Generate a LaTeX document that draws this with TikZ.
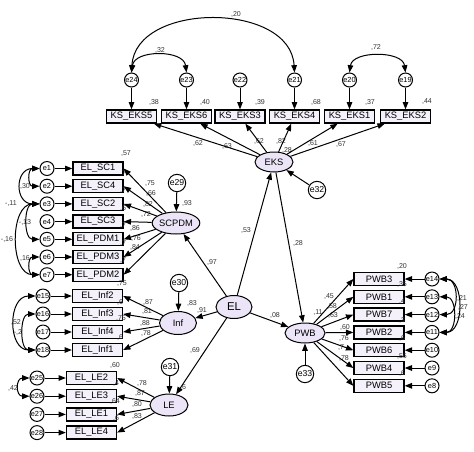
\documentclass[tikz,border=0pt]{standalone}
\usepackage{fontspec}
\setmainfont{Liberation Sans}
\usetikzlibrary{arrows.meta,shapes.geometric}
\definecolor{lav}{RGB}{236,229,247}
\tikzset{every picture/.style={line width=0.75pt}}
\tikzset{
  obsbox/.style={draw, fill=lav!55, line width=1pt, minimum width=37.5pt, minimum height=9.75pt, inner sep=0pt, font=\fontsize{7}{8}\selectfont},
  errc/.style={circle, draw, fill=white, minimum size=10.5pt, inner sep=0pt, font=\fontsize{5.5}{6}\selectfont},
  errbig/.style={circle, draw, fill=white, minimum size=13pt, inner sep=0pt, font=\fontsize{6.5}{7}\selectfont},
  latent/.style={ellipse, draw, fill=lav, minimum width=28.5pt, minimum height=16.5pt, inner sep=0pt, font=\fontsize{7}{8}\selectfont},
  coef/.style={inner sep=0pt, font=\fontsize{5.3}{6}\selectfont, text=black!80},
  regarrow/.style={-{Triangle[length=5.5pt,width=4.2pt]}},
  covarrow/.style={{Triangle[length=5.5pt,width=4.2pt]}-{Triangle[length=5.5pt,width=4.2pt]}},
}

\begin{document}
\begin{tikzpicture}[x=0.75pt,y=0.75pt,yscale=-1,xscale=1]
\useasboundingbox (0,0) rectangle (474,451); %set diagram to 474 x 451

%Shape: Latent variables
\node (el) at (234,307) [latent, minimum width=27pt, minimum height=17.25pt, font=\fontsize{8.5}{9}\selectfont] {EL};
\node (eks) at (274,162) [latent, minimum height=15pt] {EKS};
\node (scpdm) at (176,223) [latent, minimum width=30.75pt] {SCPDM};
\node (inf) at (178,323) [latent, minimum width=27.75pt, minimum height=17.25pt] {Inf};
\node (le) at (169,405) [latent] {LE};
\node (pwb) at (305,333) [latent, minimum width=30pt, minimum height=15pt] {PWB};

%Shape: Structural errors
\node (e29) at (177,183) [errbig] {e29};
\node (e30) at (179,283) [errbig] {e30};
\node (e31) at (170,367) [errbig] {e31};
\node (e32) at (317,190) [errbig] {e32};
\node (e33) at (305,374) [errbig] {e33};

%Shape: Rectangle - EKS indicators
\node (ks5) at (131.5,116.5) [obsbox] {KS\_EKS5};
\node (ks6) at (186.5,116.5) [obsbox] {KS\_EKS6};
\node (ks3) at (240,116.5) [obsbox] {KS\_EKS3};
\node (ks4) at (294.5,116.5) [obsbox] {KS\_EKS4};
\node (ks1) at (349.5,116.5) [obsbox] {KS\_EKS1};
\node (ks2) at (405.5,116.5) [obsbox] {KS\_EKS2};
\node (e24) at (131.5,80) [errc] {e24};
\node (e23) at (186.5,80) [errc] {e23};
\node (e22) at (240,80) [errc] {e22};
\node (e21) at (294.5,80) [errc] {e21};
\node (e20) at (349.5,80) [errc] {e20};
\node (e19) at (405.5,80) [errc] {e19};

%Shape: Rectangle - SCPDM indicators
\node (sc1) at (98,168.5) [obsbox] {EL\_SC1};
\node (sc4) at (98,186.2) [obsbox] {EL\_SC4};
\node (sc2) at (98,203.9) [obsbox] {EL\_SC2};
\node (sc3) at (98,221.6) [obsbox] {EL\_SC3};
\node (pdm1) at (98,239.3) [obsbox] {EL\_PDM1};
\node (pdm3) at (98,257) [obsbox] {EL\_PDM3};
\node (pdm2) at (98,274.7) [obsbox] {EL\_PDM2};
\node (e1) at (47,168.5) [errc] {e1};
\node (e2) at (47,186.2) [errc] {e2};
\node (e3) at (47,203.9) [errc] {e3};
\node (e4) at (47,221.6) [errc] {e4};
\node (e5) at (47,239.3) [errc] {e5};
\node (e6) at (47,257) [errc] {e6};
\node (e7) at (47,274.7) [errc] {e7};

%Shape: Rectangle - Inf indicators
\node (inf2) at (97.5,296) [obsbox] {EL\_Inf2};
\node (inf3) at (97.5,314) [obsbox] {EL\_Inf3};
\node (inf4) at (97.5,332) [obsbox] {EL\_Inf4};
\node (inf1) at (97.5,350) [obsbox] {EL\_Inf1};
\node (e15) at (43,296) [errc] {e15};
\node (e16) at (43,314) [errc] {e16};
\node (e17) at (43,332) [errc] {e17};
\node (e18) at (43,350) [errc] {e18};

%Shape: Rectangle - LE indicators
\node (le2) at (91.5,378) [obsbox] {EL\_LE2};
\node (le3) at (91.5,396.2) [obsbox] {EL\_LE3};
\node (le1) at (91.5,414.4) [obsbox] {EL\_LE1};
\node (le4) at (91.5,432.6) [obsbox] {EL\_LE4};
\node (e25) at (37,378) [errc] {e25};
\node (e26) at (37,396.2) [errc] {e26};
\node (e27) at (37,414.4) [errc] {e27};
\node (e28) at (37,432.6) [errc] {e28};

%Shape: Rectangle - PWB indicators
\node (pwb3) at (379,279) [obsbox] {PWB3};
\node (pwb1) at (379,296.8) [obsbox] {PWB1};
\node (pwb7) at (379,314.6) [obsbox] {PWB7};
\node (pwb2) at (379,332.4) [obsbox] {PWB2};
\node (pwb6) at (379,350.2) [obsbox] {PWB6};
\node (pwb4) at (379,368) [obsbox] {PWB4};
\node (pwb5) at (379,385.8) [obsbox] {PWB5};
\node (e14) at (432,279) [errc] {e14};
\node (e13) at (432,296.8) [errc] {e13};
\node (e12) at (432,314.6) [errc] {e12};
\node (e11) at (432,332.4) [errc] {e11};
\node (e10) at (432,350.2) [errc] {e10};
\node (e9) at (432,368) [errc] {e9};
\node (e8) at (432,385.8) [errc] {e8};

% Text Node - squared multiple correlations
\node (r2ks5) at (154,102) [coef] {,38};
\node (r2ks6) at (205,102) [coef] {,40};
\node (r2ks3) at (260,102) [coef] {,39};
\node (r2ks4) at (316,102) [coef] {,68};
\node (r2ks1) at (370,102) [coef] {,37};
\node (r2ks2) at (427,102) [coef] {,44};
\node (r2sc1) at (126,154) [coef] {,57};
\node (r2sc4) at (123,174) [coef] {,7};
\node (r2sc2) at (123,191) [coef] {,7};
\node (r2sc3) at (123,208) [coef] {,6};
\node (r2pdm1) at (123,226) [coef] {,7};
\node (r2pdm3) at (123,244) [coef] {,7};
\node (r2pdm2) at (123,261) [coef] {,7};
\node (r2inf2) at (122,284) [coef] {,75};
\node (r2inf3) at (120,302) [coef] {,6};
\node (r2inf4) at (121,319) [coef] {,75};
\node (r2inf1) at (120,337) [coef] {,6};
\node (r2le2) at (115,365) [coef] {,60};
\node (r2le3) at (116,384) [coef] {,4};
\node (r2le1) at (115,401) [coef] {,64};
\node (r2le4) at (116,418) [coef] {,6};
\node (r2pwb3) at (402,266) [coef] {,20};
\node (r2pwb1) at (402,284) [coef] {,35};
\node (r2pwb7) at (402,302) [coef] {,4};
\node (r2pwb2) at (402,320) [coef] {,3};
\node (r2pwb6) at (402,338) [coef] {,6};
\node (r2pwb4) at (402,356) [coef] {,56};
\node (r2pwb5) at (402,373) [coef] {,6};
\node (r2eks) at (287,150) [coef] {,28};
\node (r2scpdm) at (187,203) [coef] {,93};
\node (r2inf) at (192,303) [coef] {,83};
\node (r2le) at (183,387) [coef] {,6};
\node (r2pwb) at (318,313) [coef] {,11};

% Text Node - loadings
\node (lks5) at (198,143) [coef] {,62};
\node (lks6) at (227,146) [coef] {,63};
\node (lks3) at (259,141) [coef] {,62};
\node (lks4) at (281,141) [coef] {,82};
\node (lks1) at (313,143) [coef] {,61};
\node (lks2) at (341,144) [coef] {,67};
\node (lsc1) at (150,184) [coef] {,75};
\node (lsc4) at (151,193) [coef] {,66};
\node (lsc2) at (148,204) [coef] {,82};
\node (lsc3) at (146,214) [coef] {,72};
\node (lpdm1) at (135,228) [coef] {,86};
\node (lpdm3) at (136,238) [coef] {,76};
\node (lpdm2) at (135,247) [coef] {,84};
\node (linf2) at (148,302) [coef] {,87};
\node (linf3) at (147,311) [coef] {,81};
\node (linf4) at (145,323) [coef] {,88};
\node (linf1) at (146,333) [coef] {,78};
\node (lle2) at (142,383) [coef] {,78};
\node (lle3) at (140,393) [coef] {,87};
\node (lle1) at (137,404) [coef] {,80};
\node (lle4) at (137,416) [coef] {,83};
\node (lpwb3) at (329,297) [coef] {,45};
\node (lpwb1) at (332,306) [coef] {,58};
\node (lpwb7) at (333,315) [coef] {,63};
\node (lpwb2) at (345,327) [coef] {,60};
\node (lpwb6) at (344,338) [coef] {,76};
\node (lpwb4) at (341,348) [coef] {,7};
\node (lpwb5) at (344,358) [coef] {,78};

% Text Node - structural paths
\node (peks) at (246,230) [coef] {,53};
\node (pekspwb) at (298,243) [coef] {,28};
\node (pscpdm) at (212,262) [coef] {,97};
\node (pinf) at (202,310) [coef] {,91};
\node (ple) at (195,350) [coef] {,69};
\node (ppwb) at (275,315) [coef] {,08};

% Text Node - covariances
\node (c2421) at (236,14) [coef] {,20};
\node (c2423) at (160,50) [coef] {,32};
\node (c2019) at (376,47) [coef] {,72};
\node (c12) at (25,186) [coef] {,30};
\node (c13) at (11,204) [coef] {-,11};
\node (c35) at (25,222) [coef] {-,13};
\node (c37) at (7,239) [coef] {-,16};
\node (c67) at (25,258) [coef] {,16};
\node (c1518) at (16,322) [coef] {,52};
\node (c1618) at (18,332) [coef] {-,2};
\node (c2526) at (13,388) [coef] {,42};
\node (c1311) at (462,298) [coef] {,21};
\node (c1411) at (463,307) [coef] {,27};
\node (c1412) at (460,316) [coef] {,24};

%Straight Lines - structural
\draw [regarrow] (el) -- (eks);
\draw [regarrow] (el) -- (scpdm);
\draw [regarrow] (el) -- (inf);
\draw [regarrow] (el) -- (le);
\draw [regarrow] (el) -- (pwb);
\draw [regarrow] (eks) -- (pwb);
\draw [regarrow] (e29) -- (scpdm);
\draw [regarrow] (e30) -- (inf);
\draw [regarrow] (e31) -- (le);
\draw [regarrow] (e32) -- (eks);
\draw [regarrow] (e33) -- (pwb);

%Straight Lines - EKS loadings and errors
\draw [regarrow] (eks) -- (ks5);
\draw [regarrow] (eks) -- (ks6);
\draw [regarrow] (eks) -- (ks3);
\draw [regarrow] (eks) -- (ks4);
\draw [regarrow] (eks) -- (ks1);
\draw [regarrow] (eks) -- (ks2);
\draw [regarrow] (e24) -- (ks5);
\draw [regarrow] (e23) -- (ks6);
\draw [regarrow] (e22) -- (ks3);
\draw [regarrow] (e21) -- (ks4);
\draw [regarrow] (e20) -- (ks1);
\draw [regarrow] (e19) -- (ks2);

%Straight Lines - SCPDM loadings and errors
\draw [regarrow] (scpdm) -- (sc1.east);
\draw [regarrow] (scpdm) -- (sc4.east);
\draw [regarrow] (scpdm) -- (sc2.east);
\draw [regarrow] (scpdm) -- (sc3.east);
\draw [regarrow] (scpdm) -- (pdm1.east);
\draw [regarrow] (scpdm) -- (pdm3.east);
\draw [regarrow] (scpdm) -- (pdm2.east);
\draw [regarrow] (e1) -- (sc1);
\draw [regarrow] (e2) -- (sc4);
\draw [regarrow] (e3) -- (sc2);
\draw [regarrow] (e4) -- (sc3);
\draw [regarrow] (e5) -- (pdm1);
\draw [regarrow] (e6) -- (pdm3);
\draw [regarrow] (e7) -- (pdm2);

%Straight Lines - Inf loadings and errors
\draw [regarrow] (inf) -- (inf2.east);
\draw [regarrow] (inf) -- (inf3.east);
\draw [regarrow] (inf) -- (inf4.east);
\draw [regarrow] (inf) -- (inf1.east);
\draw [regarrow] (e15) -- (inf2);
\draw [regarrow] (e16) -- (inf3);
\draw [regarrow] (e17) -- (inf4);
\draw [regarrow] (e18) -- (inf1);

%Straight Lines - LE loadings and errors
\draw [regarrow] (le) -- (le2.east);
\draw [regarrow] (le) -- (le3.east);
\draw [regarrow] (le) -- (le1.east);
\draw [regarrow] (le) -- (le4.east);
\draw [regarrow] (e25) -- (le2);
\draw [regarrow] (e26) -- (le3);
\draw [regarrow] (e27) -- (le1);
\draw [regarrow] (e28) -- (le4);

%Straight Lines - PWB loadings and errors
\draw [regarrow] (pwb) -- (pwb3.west);
\draw [regarrow] (pwb) -- (pwb1.west);
\draw [regarrow] (pwb) -- (pwb7.west);
\draw [regarrow] (pwb) -- (pwb2.west);
\draw [regarrow] (pwb) -- (pwb6.west);
\draw [regarrow] (pwb) -- (pwb4.west);
\draw [regarrow] (pwb) -- (pwb5.west);
\draw [regarrow] (e14) -- (pwb3);
\draw [regarrow] (e13) -- (pwb1);
\draw [regarrow] (e12) -- (pwb7);
\draw [regarrow] (e11) -- (pwb2);
\draw [regarrow] (e10) -- (pwb6);
\draw [regarrow] (e9) -- (pwb4);
\draw [regarrow] (e8) -- (pwb5);

%Curve Lines - covariances
\draw [covarrow] (e24.north) .. controls +(4,-71) and +(-4,-71) .. (e21.north);
\draw [covarrow] (e24.north) .. controls +(3,-23) and +(-3,-23) .. (e23.north);
\draw [covarrow] (e20.north) .. controls +(3,-22) and +(-3,-22) .. (e19.north);
\draw [covarrow] (e1.west) .. controls +(-12,0) and +(-12,0) .. (e2.west);
\draw [covarrow] (e1.west) .. controls +(-25,0) and +(-25,0) .. (e3.west);
\draw [covarrow] (e3.west) .. controls +(-16,0) and +(-16,0) .. (e5.west);
\draw [covarrow] (e3.west) .. controls +(-30,0) and +(-30,0) .. (e7.west);
\draw [covarrow] (e6.west) .. controls +(-12,0) and +(-12,0) .. (e7.west);
\draw [covarrow] (e15.west) .. controls +(-28,0) and +(-28,0) .. (e18.west);
\draw [covarrow] (e16.west) .. controls +(-16,0) and +(-16,0) .. (e18.west);
\draw [covarrow] (e25.west) .. controls +(-14,0) and +(-14,0) .. (e26.west);
\draw [covarrow] (e14.east) .. controls +(25,0) and +(25,0) .. (e11.east);
\draw [covarrow] (e13.east) .. controls +(18,0) and +(18,0) .. (e11.east);
\draw [covarrow] (e14.east) .. controls +(20,0) and +(20,0) .. (e12.east);

\end{tikzpicture}
\end{document}
